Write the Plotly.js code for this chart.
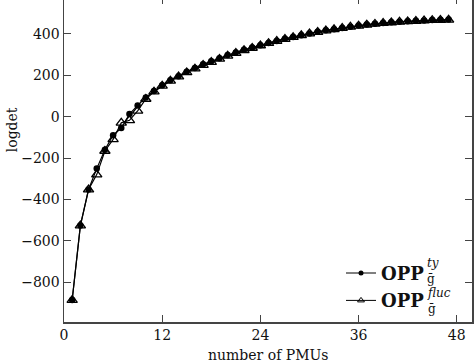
<!DOCTYPE html>
<html><head><meta charset="utf-8">
<script src="https://cdn.plot.ly/plotly-3.0.1.min.js"></script>
<style>html,body{margin:0;padding:0;overflow:hidden;background:#fff}#chart{position:absolute;left:0;top:-3px;width:474px;height:364px}</style>
</head><body><div id="chart"></div>
<script>
const pmus = [1,2,3,4,5,6,7,8,9,10,11,12,13,14,15,16,17,18,19,20,21,22,23,24,25,26,27,28,29,30,31,32,33,34,35,36,37,38,39,40,41,42,43,44,45,46,47];
const logdetTy = [-885,-526,-352,-251,-160,-90,-55,12,54,92,124,151,175,195,216,235,252,267,282,297,309,322,333,344,355,365,375,384,393,401,409,416,422,428,434,439,444,448,452,455,458,460,462,464,466,467,468];
const logdetFluc = [-885,-526,-352,-280,-166,-110,-30,-18,28,85,120,148,172,193,213,231,248,263,278,293,306,320,331,343,354,364,374,383,392,400,408,415,421,427,433,438,443,447,451,454,457,459,461,463,465,466,467];
const xTicks = [0,12,24,36,48];
const yTicks = [-800,-600,-400,-200,0,200,400];
const seriesNames = ['OPP', 'OPP'];
const seriesSup = ['ty', 'fluc'];
const seriesSub = ['\u1E21', '\u1E21'];

const serif = "DejaVu Serif";
const traces = [
  {x: pmus, y: logdetTy, mode: 'lines+markers', showlegend: false,
   line: {color: '#000', width: 1.2}, marker: {symbol: 'circle', size: 6.5, color: '#000'}},
  {x: pmus, y: logdetFluc, mode: 'lines+markers', showlegend: false,
   line: {color: '#000', width: 1.2}, marker: {symbol: 'triangle-up-open', size: 9, color: '#000', line: {width: 1.3, color: '#000'}}},
  {x: [null], y: [null], mode: 'lines+markers', name: '<b>' + seriesNames[0] + '</b>', legend: 'legend',
   line: {color: '#000', width: 1}, marker: {symbol: 'circle', size: 5, color: '#000'}},
  {x: [null], y: [null], mode: 'lines+markers', name: '<b>' + seriesNames[1] + '</b>', legend: 'legend2',
   line: {color: '#000', width: 1}, marker: {symbol: 'triangle-up-open', size: 6, color: '#000', line: {width: 1, color: '#000'}}}
];
const axisCommon = {showline: true, linecolor: '#444', linewidth: 1.5, mirror: 'ticks', ticks: 'inside', ticklen: 7, tickcolor: '#444', tickwidth: 1, showgrid: false, zeroline: false, tickfont: {family: serif, size: 14, color: '#111'}};
const legendCommon = {xanchor: 'left', yanchor: 'middle', bgcolor: 'rgba(0,0,0,0)', borderwidth: 0, font: {family: serif, size: 18, color: '#111'}};
const px2x = px => (px - 64) / 408;
const py2y = py => (322 - py) / 325;
const layout = {
  width: 474, height: 364,
  margin: {l: 64, r: 2, t: 0, b: 39},
  paper_bgcolor: '#fff', plot_bgcolor: '#fff',
  showlegend: true,
  legend: Object.assign({}, legendCommon, {x: px2x(341), y: py2y(273.3)}),
  legend2: Object.assign({}, legendCommon, {x: px2x(341), y: py2y(300.7)}),
  xaxis: Object.assign({}, axisCommon, {range: [0, 49.86], tickvals: xTicks, ticktext: xTicks.map(String)}),
  yaxis: Object.assign({}, axisCommon, {range: [-991, 577], tickvals: yTicks, ticktext: yTicks.map(v => v < 0 ? '\u2212' + Math.abs(v) : String(v))}),
  annotations: [
    {text: 'logdet', xref: 'paper', yref: 'paper', x: 0, xshift: -62, y: 0.59, textangle: -90, showarrow: false, font: {family: serif, size: 14, color: '#111'}},
    {text: 'number of PMUs', xref: 'paper', yref: 'paper', x: 0.5, y: 0, yanchor: 'top', yshift: -23, showarrow: false, font: {family: serif, size: 14, color: '#111'}},
    {text: '<i>' + seriesSup[0] + '</i><br>' + seriesSub[0], align: 'left', xref: 'paper', yref: 'paper', x: px2x(426), y: py2y(271), xanchor: 'left', yanchor: 'middle', showarrow: false, borderpad: 0, font: {family: serif, size: 12, color: '#111'}},
    {text: '<i>' + seriesSup[1] + '</i><br>' + seriesSub[1], align: 'left', xref: 'paper', yref: 'paper', x: px2x(426), y: py2y(300.5), xanchor: 'left', yanchor: 'middle', showarrow: false, borderpad: 0, font: {family: serif, size: 12, color: '#111'}}
  ]
};
Plotly.newPlot('chart', traces, layout, {displayModeBar: false, staticPlot: true});
</script></body></html>
